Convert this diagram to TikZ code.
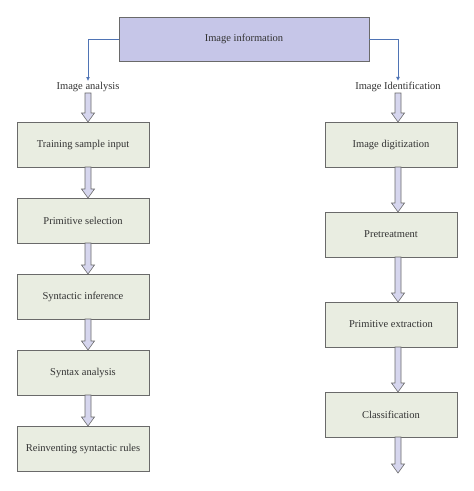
\documentclass[tikz,border=0pt]{standalone}
\usepackage{fontspec}
\setmainfont{Liberation Serif}
\usepackage{xcolor}
\usetikzlibrary{positioning,calc,arrows.meta}

\definecolor{infofill}{HTML}{C6C6E8}
\definecolor{stepfill}{HTML}{E9EDE1}
\definecolor{arrowfill}{HTML}{D6D6EE}
\definecolor{linkblue}{HTML}{4F74B5}
\definecolor{edgegray}{HTML}{6A6A6A}

% hollow block arrow from #1 down to #2
\newcommand{\blockarrow}[2]{%
	\draw[edgegray, fill=arrowfill, line width=0.6pt, line join=miter]
	($(#1)+(-3,0)$) -- ($(#2)+(-3,-9)$) -- ($(#2)+(-6.5,-9)$) -- (#2)
	-- ($(#2)+(6.5,-9)$) -- ($(#2)+(3,-9)$) -- ($(#1)+(3,0)$) -- cycle;}

\begin{document}
\begin{tikzpicture}[x=1pt,y=-1pt,
every node/.style = {font=\fontsize{10.5}{12}\selectfont, text=black!80},
stepbox/.style = {shape=rectangle, draw=edgegray, line width=0.7pt,
	fill=stepfill, minimum width=132pt, minimum height=45pt,
	outer sep=0pt, align=center},
infobox/.style = {shape=rectangle, draw=edgegray, line width=0.7pt,
	fill=infofill, minimum width=250pt, minimum height=44pt, outer sep=0pt},
branch/.style = {inner sep=1pt},
bluelink/.style = {linkblue, line width=0.8pt,
	-{Latex[length=4pt,width=4pt]}}
]
\useasboundingbox (0,0) rectangle (474,491);

\node[infobox] (info) at (244,39) {Image information};
\node[branch] (anl) at (88,87) {Image analysis};
\node[branch] (idt) at (398,87) {Image Identification};

% left column
\node[stepbox] (ts) at (83,144.5) {Training sample input};
\node[stepbox, below=31pt of ts] (ps) {Primitive selection};
\node[stepbox, below=31pt of ps] (si) {Syntactic inference};
\node[stepbox, below=31pt of si] (sa) {Syntax analysis};
\node[stepbox, below=31pt of sa] (rr) {Reinventing syntactic rules};

% right column
\node[stepbox] (dg) at (391,144.5) {Image digitization};
\node[stepbox, below=45pt of dg] (pt) {Pretreatment};
\node[stepbox, below=45pt of pt] (pe) {Primitive extraction};
\node[stepbox, below=45pt of pe] (cl) {Classification};
\coordinate (out) at ([yshift=-36pt]cl.south -| idt);

\draw[bluelink] (info.west) -| (anl.north);
\draw[bluelink] (info.east) -| (idt.north);

\blockarrow{anl.south}{ts.north -| anl}
\blockarrow{ts.south -| anl}{ps.north -| anl}
\blockarrow{ps.south -| anl}{si.north -| anl}
\blockarrow{si.south -| anl}{sa.north -| anl}
\blockarrow{sa.south -| anl}{rr.north -| anl}

\blockarrow{idt.south}{dg.north -| idt}
\blockarrow{dg.south -| idt}{pt.north -| idt}
\blockarrow{pt.south -| idt}{pe.north -| idt}
\blockarrow{pe.south -| idt}{cl.north -| idt}
\blockarrow{cl.south -| idt}{out}
\end{tikzpicture}
\end{document}
